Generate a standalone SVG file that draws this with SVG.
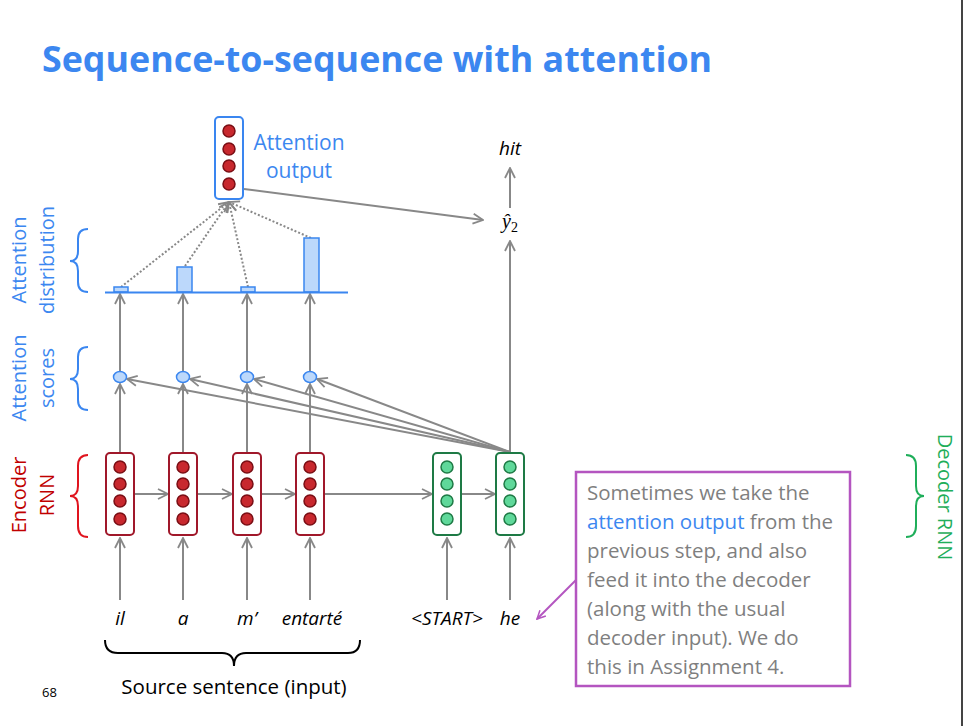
<svg xmlns="http://www.w3.org/2000/svg" width="965" height="726" viewBox="0 0 965 726">
<defs>
<style>
.t{font-family:"Open Sans","Liberation Sans",sans-serif}
.ar{stroke:#888;stroke-width:2;fill:none}
.enc{fill:#fff;stroke:#a0182a;stroke-width:2}
.dec{fill:#fff;stroke:#1e7a45;stroke-width:2}
.rd{fill:#c8282e;stroke:#7a0e14;stroke-width:1.5}
.gd{fill:#5fd89a;stroke:#1e7a45;stroke-width:1.5}
.sc{fill:#bcd8fb;stroke:#3a86f0;stroke-width:1.5}
.br{fill:none;stroke-width:2}
.w{font-family:"Open Sans","Liberation Sans",sans-serif;font-style:italic;font-size:19px;text-anchor:middle}
.ct{font-family:"Open Sans","Liberation Sans",sans-serif;font-size:20.5px;fill:#7f7f7f}
</style>
<marker id="a" viewBox="0 0 12 12" refX="11" refY="6" markerWidth="12" markerHeight="12" markerUnits="userSpaceOnUse" orient="auto"><path d="M1,1 L11,6 L1,11" fill="none" stroke="#888" stroke-width="1.8"/></marker>
<marker id="p" viewBox="0 0 12 12" refX="11" refY="6" markerWidth="10" markerHeight="10" markerUnits="userSpaceOnUse" orient="auto"><path d="M1,1 L11,6 L1,11" fill="none" stroke="#b455c0" stroke-width="1.8"/></marker>
<symbol id="ebox"><rect x="1" y="1" width="28" height="82" rx="4" class="enc"/></symbol>
</defs>
<rect x="0" y="0" width="965" height="726" fill="#fff"/>
<line x1="962" y1="0" x2="962" y2="726" stroke="#444" stroke-width="2"/>
<text class="t" x="42" y="72" font-size="35.8" font-weight="bold" fill="#3c87f0">Sequence-to-sequence with attention</text>

<g id="connectors">
<g class="ar" marker-end="url(#a)">
<line x1="120" y1="600" x2="120" y2="538"/><line x1="183" y1="600" x2="183" y2="538"/><line x1="247" y1="600" x2="247" y2="538"/><line x1="310" y1="600" x2="310" y2="538"/>
<line x1="447" y1="600" x2="447" y2="538"/><line x1="510" y1="600" x2="510" y2="538"/>
<line x1="135" y1="494" x2="168" y2="494"/><line x1="198" y1="494" x2="232" y2="494"/><line x1="262" y1="494" x2="295" y2="494"/><line x1="325" y1="494" x2="432" y2="494"/><line x1="462" y1="494" x2="495" y2="494"/>
<line x1="120" y1="452" x2="120" y2="384"/><line x1="183" y1="452" x2="183" y2="384"/><line x1="247" y1="452" x2="247" y2="384"/><line x1="310" y1="452" x2="310" y2="384"/>
<line x1="120" y1="371" x2="120" y2="294"/><line x1="183" y1="371" x2="183" y2="294"/><line x1="247" y1="371" x2="247" y2="294"/><line x1="310" y1="371" x2="310" y2="294"/>
<line x1="510" y1="452" x2="127" y2="379"/><line x1="510" y1="452" x2="190" y2="379"/><line x1="510" y1="452" x2="254" y2="379"/><line x1="510" y1="452" x2="317" y2="379"/>
<line x1="510" y1="452" x2="510" y2="241"/><line x1="510" y1="208" x2="510" y2="168"/>
<line x1="244" y1="189" x2="483" y2="220"/>
</g>
<g stroke="#888" stroke-width="2" stroke-dasharray="2,2" fill="none" marker-end="url(#a)">
<line x1="121" y1="287" x2="229" y2="202"/><line x1="185" y1="266" x2="229" y2="202"/><line x1="248" y1="287" x2="229" y2="202"/><line x1="311" y1="238" x2="229" y2="202"/>
</g>
<line x1="578" y1="578" x2="537" y2="619" stroke="#b455c0" stroke-width="2" marker-end="url(#p)"/>
</g>

<g id="encoder">
<g id="enc1" transform="translate(105,452)"><use href="#ebox"/><circle cx="15" cy="15" r="6" class="rd"/><circle cx="15" cy="32" r="6" class="rd"/><circle cx="15" cy="49" r="6" class="rd"/><circle cx="15" cy="67" r="6" class="rd"/></g>
<g id="enc2" transform="translate(168,452)"><use href="#ebox"/><circle cx="15" cy="15" r="6" class="rd"/><circle cx="15" cy="32" r="6" class="rd"/><circle cx="15" cy="49" r="6" class="rd"/><circle cx="15" cy="67" r="6" class="rd"/></g>
<g id="enc3" transform="translate(232,452)"><use href="#ebox"/><circle cx="15" cy="15" r="6" class="rd"/><circle cx="15" cy="32" r="6" class="rd"/><circle cx="15" cy="49" r="6" class="rd"/><circle cx="15" cy="67" r="6" class="rd"/></g>
<g id="enc4" transform="translate(295,452)"><use href="#ebox"/><circle cx="15" cy="15" r="6" class="rd"/><circle cx="15" cy="32" r="6" class="rd"/><circle cx="15" cy="49" r="6" class="rd"/><circle cx="15" cy="67" r="6" class="rd"/></g>
</g>
<g id="decoder">
<g id="dec1" transform="translate(432,452)"><rect x="1" y="1" width="28" height="82" rx="4" class="dec"/><circle cx="15" cy="15" r="6" class="gd"/><circle cx="15" cy="32" r="6" class="gd"/><circle cx="15" cy="49" r="6" class="gd"/><circle cx="15" cy="67" r="6" class="gd"/></g>
<g id="dec2" transform="translate(495,452)"><rect x="1" y="1" width="28" height="82" rx="4" class="dec"/><circle cx="15" cy="15" r="6" class="gd"/><circle cx="15" cy="32" r="6" class="gd"/><circle cx="15" cy="49" r="6" class="gd"/><circle cx="15" cy="67" r="6" class="gd"/></g>
</g>
<g id="attn-output">
<rect x="215" y="117" width="28" height="82" rx="4" fill="#fff" stroke="#3a86f0" stroke-width="2"/>
<circle cx="229" cy="131" r="6" class="rd"/><circle cx="229" cy="149" r="6" class="rd"/><circle cx="229" cy="166" r="6" class="rd"/><circle cx="229" cy="184" r="6" class="rd"/>
<text class="t" x="299" y="150" font-size="21" fill="#3c87f0" text-anchor="middle">Attention</text>
<text class="t" x="299" y="178" font-size="21" fill="#3c87f0" text-anchor="middle">output</text>
</g>
<g id="scores">
<ellipse cx="120" cy="377" rx="6.5" ry="5.5" class="sc"/><ellipse cx="183" cy="377" rx="6.5" ry="5.5" class="sc"/><ellipse cx="247" cy="377" rx="6.5" ry="5.5" class="sc"/><ellipse cx="310" cy="377" rx="6.5" ry="5.5" class="sc"/>
</g>
<g id="distribution">
<rect x="114" y="287" width="14" height="5" class="sc"/><rect x="177" y="267" width="15" height="25" class="sc"/><rect x="241" y="287" width="14" height="5" class="sc"/><rect x="304" y="238" width="15" height="54" class="sc"/>
<line x1="105" y1="292.5" x2="348" y2="292.5" stroke="#3a86f0" stroke-width="2"/>
</g>
<g id="outputs">
<text x="510" y="228" font-family="Liberation Serif,serif" font-style="italic" font-size="20" text-anchor="middle">ŷ<tspan font-style="normal" font-size="14" dy="4">2</tspan></text>
<text class="w" x="510" y="155">hit</text>
</g>
<g id="inputs">
<text class="w" x="120" y="625">il</text><text class="w" x="183" y="625">a</text><text class="w" x="247" y="625">m’</text><text class="w" x="312" y="625">entarté</text><text class="w" x="447" y="625">&lt;START&gt;</text><text class="w" x="510" y="625">he</text>
</g>
<g id="labels">
<path class="br" stroke="#000" d="M105,640 Q105,653 118,653 L222,653 Q234,653 234,666 Q234,653 246,653 L348,653 Q360,653 360,640"/>
<text class="t" x="234" y="694" font-size="20.5" text-anchor="middle">Source sentence (input)</text>
<text class="t" x="42" y="697" font-size="13">68</text>
<path class="br" stroke="#e0141e" d="M88,455 Q78,455 78,466 L78,486 Q78,496 70,496 Q78,496 78,506 L78,526 Q78,537 88,537"/>
<path class="br" stroke="#3a86f0" d="M88,347 Q78,347 78,357 L78,369 Q78,379 70,379 Q78,379 78,389 L78,400 Q78,410 88,410"/>
<path class="br" stroke="#3a86f0" d="M88,229 Q78,229 78,239 L78,251 Q78,261 70,261 Q78,261 78,271 L78,282 Q78,292 88,292"/>
<path class="br" stroke="#1fae5a" d="M906,455 Q916,455 916,466 L916,486 Q916,496 924,496 Q916,496 916,506 L916,526 Q916,537 906,537"/>
<g class="t" font-size="20" text-anchor="middle">
<text transform="translate(26,495) rotate(-90)" fill="#c00000">Encoder</text>
<text transform="translate(54,495) rotate(-90)" fill="#c00000">RNN</text>
<text transform="translate(26,378) rotate(-90)" fill="#3c87f0">Attention</text>
<text transform="translate(54,378) rotate(-90)" fill="#3c87f0">scores</text>
<text transform="translate(26,260) rotate(-90)" fill="#3c87f0">Attention</text>
<text transform="translate(54,260) rotate(-90)" fill="#3c87f0">distribution</text>
<text transform="translate(938,497) rotate(90)" fill="#1fae5a">Decoder RNN</text>
</g>
</g>
<g id="callout">
<rect x="576" y="472" width="274" height="214" fill="#fff" stroke="#b455c0" stroke-width="2.5"/>
<text class="ct" x="587" y="500">Sometimes we take the</text>
<text class="ct" x="587" y="529"><tspan fill="#3c87f0">attention output</tspan> from the</text>
<text class="ct" x="587" y="558">previous step, and also</text>
<text class="ct" x="587" y="587">feed it into the decoder</text>
<text class="ct" x="587" y="616">(along with the usual</text>
<text class="ct" x="587" y="645">decoder input). We do</text>
<text class="ct" x="587" y="674">this in Assignment 4.</text>
</g>
</svg>
